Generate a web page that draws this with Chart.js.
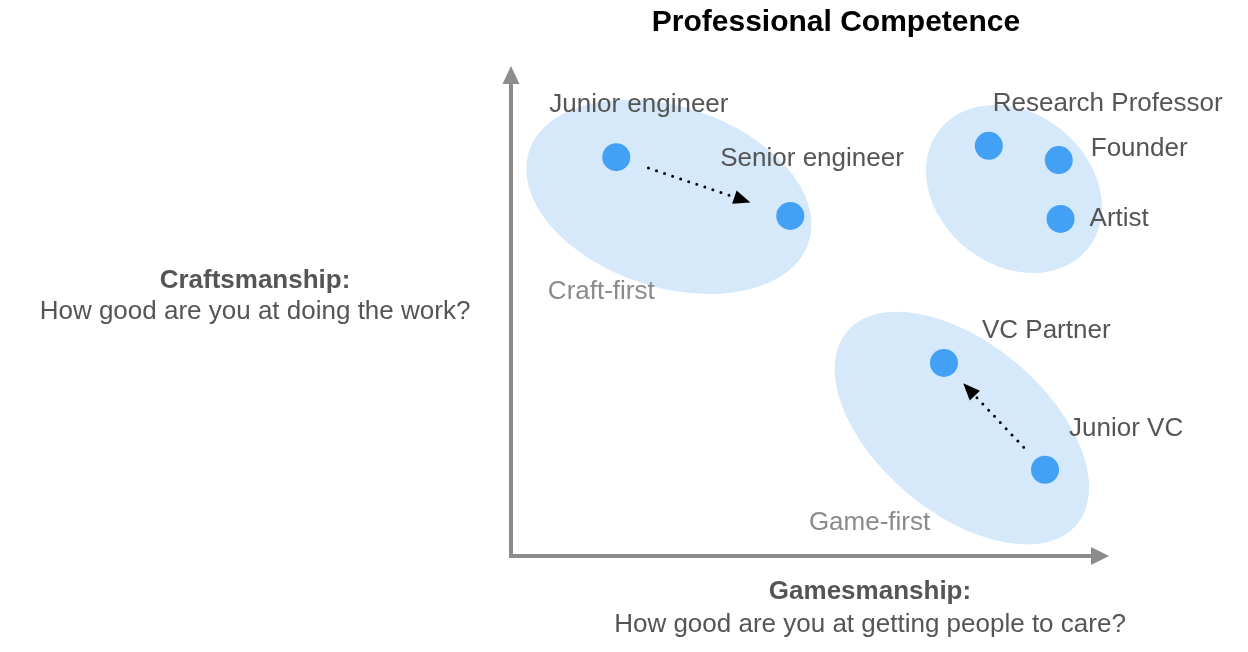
<!DOCTYPE html>
<html>
<head>
<meta charset="utf-8">
<script src="https://cdn.jsdelivr.net/npm/chart.js@4"></script>
<style>
  html, body { margin: 0; padding: 0; background: #fff; }
  #wrap { width: 1248px; height: 652px; }
</style>
</head>
<body>
<div id="wrap"><canvas id="myChart" width="1248" height="652"></canvas></div>
<script>
// roles on the map (x = gamesmanship, y = craftsmanship, 0..100)
const roles = ['Junior engineer', 'Senior engineer', 'Research Professor', 'Founder', 'Artist', 'VC Partner', 'Junior VC'];
const gameScore = [17.6, 46.7, 79.9, 91.6, 91.9, 72.4, 89.3];
const craftScore = [81.4, 69.4, 83.7, 80.8, 68.8, 39.4, 17.6];

// clusters: centre in data units
const groups = ['Craft-first', '', 'Game-first'];
const groupX = [26.4, 84.1, 75.4];
const groupY = [73.3, 74.9, 26.1];

// career moves: from role index -> to role index
const moveFrom = [0, 6];
const moveTo = [1, 5];

const FONT = '"Liberation Sans", Helvetica, Arial, sans-serif';
const TEXT = '#555555';

// ellipse shapes (radii in x-axis units, rotation in degrees)
const groupShape = [
  {rx: 24.6, ry: 15.1, rot: 18},
  {rx: 15.9, ry: 12.7, rot: 39},
  {rx: 25.1, ry: 14.2, rot: 40},
];
const groupLabelOffset = [[-121, 95], null, [-153, 95]];
const roleLabelOffset = [[-67, -52], [-70, -57], [4, -42], [32, -11], [29, 0], [38, -32], [24, -41]];
const moveTrim = [[34, 42], [31, 28]];

const points = roles.map((r, i) => ({x: gameScore[i], y: craftScore[i]}));

const mapPlugin = {
  id: 'map',
  beforeDatasetsDraw(chart) {
    const {ctx, chartArea: a, scales: {x, y}} = chart;
    const unit = x.getPixelForValue(1) - x.getPixelForValue(0);
    ctx.save();
    // cluster ellipses
    ctx.fillStyle = '#D5E9FB';
    groups.forEach((g, i) => {
      const s = groupShape[i];
      ctx.beginPath();
      ctx.ellipse(x.getPixelForValue(groupX[i]), y.getPixelForValue(groupY[i]),
        s.rx * unit, s.ry * unit, s.rot * Math.PI / 180, 0, Math.PI * 2);
      ctx.fill();
    });
    // axes with arrow heads
    ctx.strokeStyle = '#8C8C8C';
    ctx.fillStyle = '#8C8C8C';
    ctx.lineWidth = 4;
    ctx.beginPath();
    ctx.moveTo(a.left, a.top + 16);
    ctx.lineTo(a.left, a.bottom);
    ctx.lineTo(a.right - 16, a.bottom);
    ctx.stroke();
    ctx.beginPath();
    ctx.moveTo(a.left, a.top);
    ctx.lineTo(a.left - 8.5, a.top + 18);
    ctx.lineTo(a.left + 8.5, a.top + 18);
    ctx.closePath();
    ctx.fill();
    ctx.beginPath();
    ctx.moveTo(a.right, a.bottom);
    ctx.lineTo(a.right - 18, a.bottom - 9);
    ctx.lineTo(a.right - 18, a.bottom + 9);
    ctx.closePath();
    ctx.fill();
    // dotted arrows for career moves
    moveFrom.forEach((f, i) => {
      const t = moveTo[i];
      const x0 = x.getPixelForValue(gameScore[f]), y0 = y.getPixelForValue(craftScore[f]);
      const x1 = x.getPixelForValue(gameScore[t]), y1 = y.getPixelForValue(craftScore[t]);
      const len = Math.hypot(x1 - x0, y1 - y0);
      const ux = (x1 - x0) / len, uy = (y1 - y0) / len;
      const sx = x0 + ux * moveTrim[i][0], sy = y0 + uy * moveTrim[i][0];
      const ex = x1 - ux * moveTrim[i][1], ey = y1 - uy * moveTrim[i][1];
      const head = 17;
      ctx.strokeStyle = '#000';
      ctx.fillStyle = '#000';
      ctx.lineWidth = 3;
      ctx.lineCap = 'round';
      ctx.setLineDash([0, 8.5]);
      ctx.beginPath();
      ctx.moveTo(sx, sy);
      ctx.lineTo(ex - ux * head, ey - uy * head);
      ctx.stroke();
      ctx.setLineDash([]);
      ctx.beginPath();
      ctx.moveTo(ex, ey);
      ctx.lineTo(ex - ux * head - uy * 7, ey - uy * head + ux * 7);
      ctx.lineTo(ex - ux * head + uy * 7, ey - uy * head - ux * 7);
      ctx.closePath();
      ctx.fill();
    });
    ctx.restore();
  },
  afterDatasetsDraw(chart) {
    const {ctx, chartArea: a, scales: {x, y}} = chart;
    ctx.save();
    ctx.textBaseline = 'middle';
    ctx.textAlign = 'left';
    ctx.font = '26px ' + FONT;
    ctx.fillStyle = TEXT;
    roles.forEach((r, i) => {
      const o = roleLabelOffset[i];
      ctx.fillText(r, x.getPixelForValue(gameScore[i]) + o[0], y.getPixelForValue(craftScore[i]) + o[1]);
    });
    ctx.fillStyle = '#8A8A8A';
    groups.forEach((g, i) => {
      if (!g) return;
      const o = groupLabelOffset[i];
      ctx.fillText(g, x.getPixelForValue(groupX[i]) + o[0], y.getPixelForValue(groupY[i]) + o[1]);
    });

    // titles
    ctx.textAlign = 'center';
    ctx.fillStyle = '#000';
    ctx.font = 'bold 30px ' + FONT;
    ctx.fillText('Professional Competence', 836, 23);

    ctx.fillStyle = TEXT;
    ctx.font = 'bold 26px ' + FONT;
    ctx.fillText('Craftsmanship:', 255, 281);
    ctx.fillText('Gamesmanship:', (a.left + a.right) / 2 + 60, 592);
    ctx.font = '26px ' + FONT;
    ctx.fillText('How good are you at doing the work?', 255, 312);
    ctx.fillText('How good are you at getting people to care?', (a.left + a.right) / 2 + 60, 625);
    ctx.restore();
  }
};

new Chart(document.getElementById('myChart'), {
  type: 'scatter',
  data: {
    datasets: [{
      data: points,
      backgroundColor: '#42A0F5',
      borderWidth: 0,
      pointRadius: 14,
      pointHoverRadius: 14,
    }]
  },
  options: {
    responsive: false,
    animation: false,
    events: [],
    layout: {padding: {left: 511, right: 139, top: 66, bottom: 96}},
    plugins: {legend: {display: false}, tooltip: {enabled: false}, title: {display: false}},
    scales: {
      x: {type: 'linear', min: 0, max: 100, display: false},
      y: {type: 'linear', min: 0, max: 100, display: false}
    }
  },
  plugins: [mapPlugin]
});
</script>
</body>
</html>
